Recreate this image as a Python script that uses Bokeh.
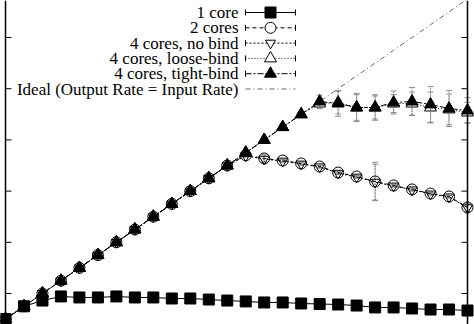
from bokeh.plotting import figure
from bokeh.models import Range1d, Label, Span
from bokeh.embed import file_html
from bokeh.resources import INLINE

# ---------------- data ----------------
input_rate = [20, 30, 40, 50, 60, 70, 80, 90, 100, 110, 120, 130, 140,
              150, 160, 170, 180, 190, 200, 210, 220, 230, 240, 250, 260, 270]
ideal = list(input_rate)

one_core = [20, 30, 34.5, 37.7, 36.9, 36.9, 37.7, 36.9, 36.9, 36.1, 36.1, 35.3, 34.5,
            33.8, 33.0, 33.0, 32.2, 31.8, 31.4, 30.6, 29.1, 29.1, 28.3, 27.5, 27.5, 26.7]
one_core_err = [0, 0, 1, 1, 1, 1, 1, 1, 1, 1, 1, 1, 1,
                1, 1, 1, 1, 1, 1, 1, 1, 1, 1, 1, 1, 1]

two_cores = [20, 30, 40, 50, 60, 70, 80, 90, 100, 110, 120, 130, 140,
             148, 145.5, 143.9, 141.6, 139.2, 134.5, 131.4, 127.5, 124.4, 121.3, 118.1, 115.8, 107.2]
two_cores_err = [0, 0, 0, 0, 0, 0, 0, 0, 0, 0, 0, 0, 0,
                 1, 3, 1, 1, 1, 1, 1, 15, 1, 1, 1, 1, 3]

no_bind = [20, 30, 40, 50, 60, 70, 80, 90, 100, 110, 120, 130, 140,
           147.5, 145.0, 143.5, 141.2, 139.0, 134.0, 131.0, 127.0, 124.0, 121.0, 117.8, 115.5, 107.0]
no_bind_err = [0, 0, 0, 0, 0, 0, 0, 0, 0, 0, 0, 0, 0,
               1, 2, 1, 1, 1, 1, 1, 14, 1, 1, 1, 1, 3]

loose_bind = [20, 30, 40, 50, 60, 70, 80, 90, 100, 110, 120, 130, 140,
              150, 160, 170, 180, 188.4, 189.2, 185.3, 185.3, 188.4, 188.4, 185.3, 183.8, 181.4]
loose_bind_err = [0, 0, 0, 0, 0, 0, 0, 0, 0, 0, 0, 0, 0,
                  0, 0, 0, 1, 4, 9, 10, 9, 7, 9, 12, 12, 8]

tight_bind = [20, 30, 40, 50, 60, 70, 80, 90, 100, 110, 120, 130, 140,
              150, 160, 170, 180, 190, 188.4, 185.3, 185.3, 189.2, 190.0, 187.7, 184.5, 183.0]
tight_bind_err = [0, 0, 0, 0, 0, 0, 0, 0, 0, 0, 0, 0, 0,
                  0, 0, 0, 1, 5, 10, 11, 10, 9, 11, 14, 14, 10]

y_ticks = [40, 80, 120, 160, 200, 240]
legend_labels = ["1 core", "2 cores", "4 cores, no bind", "4 cores, loose-bind",
                 "4 cores, tight-bind", "Ideal (Output Rate = Input Rate)"]

# ---------------- layout ----------------
W, H = 474, 324
PXX = 1.848   # px per x unit
PXY = 1.28    # px per y unit
x0 = 20 - 5 / PXX
x1 = x0 + W / PXX
y1 = 40 + 293 / PXY
y0 = y1 - H / PXY

def dx(px):
    return x0 + px / PXX

def dy(py):
    return y1 - py / PXY

p = figure(width=W, height=H, x_range=Range1d(x0, x1), y_range=Range1d(y0, y1),
           output_backend="svg", toolbar_location=None,
           x_axis_type=None, y_axis_type=None, min_border=0,
           outline_line_color=None, background_fill_color="white",
           border_fill_color="white")

# frame lines (left and right borders)
xmin, xmax = input_rate[0], input_rate[-1]
p.add_layout(Span(location=xmin, dimension="height", line_color="black", line_width=1.5))
p.add_layout(Span(location=xmax, dimension="height", line_color="black", line_width=1.5))
tl = 6 / PXX
p.segment(x0=[xmin] * len(y_ticks), y0=y_ticks, x1=[xmin + tl] * len(y_ticks), y1=y_ticks,
          line_color="black", line_width=1)
p.segment(x0=[xmax - tl] * len(y_ticks), y0=y_ticks, x1=[xmax] * len(y_ticks), y1=y_ticks,
          line_color="black", line_width=1)

series = [
    dict(y=one_core, err=one_core_err, dash="solid", marker="square", size=11, fill="black"),
    dict(y=two_cores, err=two_cores_err, dash="4 3", marker="circle", size=11, fill=None),
    dict(y=no_bind, err=no_bind_err, dash="2 2", marker="inverted_triangle", size=10, fill=None),
    dict(y=loose_bind, err=loose_bind_err, dash="1 2", marker="triangle", size=12, fill=None),
    dict(y=tight_bind, err=tight_bind_err, dash="6 2 2 2", marker="triangle", size=12, fill="black"),
]

# ideal line
p.line(input_rate, ideal, line_color="#555555", line_width=0.9, line_dash="5 3 1 3")

for s in series:
    ys = s["y"]
    lo = [a - e for a, e in zip(ys, s["err"])]
    hi = [a + e for a, e in zip(ys, s["err"])]
    p.segment(x0=input_rate, y0=lo, x1=input_rate, y1=hi, line_color="#777777",
              line_width=0.8, line_dash="2 1")
    p.scatter(input_rate, lo, marker="dash", size=6, line_color="#777777", line_width=0.8)
    p.scatter(input_rate, hi, marker="dash", size=6, line_color="#777777", line_width=0.8)
    p.line(input_rate, ys, line_color="black", line_width=1, line_dash=s["dash"])
    p.scatter(input_rate, ys, marker=s["marker"], size=s["size"], line_color="black",
              line_width=1, fill_color=s["fill"])

# ---------------- legend (gnuplot style) ----------------
row_y = [12 + 15.3 * k for k in range(6)]
lx0, lx1, lxm = 245, 295, 270
legend_styles = series + [dict(dash="5 3 1 3", marker=None)]
for k, (lab, s) in enumerate(zip(legend_labels, legend_styles)):
    yy = dy(row_y[k])
    p.add_layout(Label(x=238, y=H - row_y[k], x_units="screen", y_units="screen",
                       text=lab, text_align="right", text_baseline="middle",
                       text_font="Liberation Serif", text_font_size="17px",
                       text_color="black"))
    if s["marker"] is None:
        p.line([dx(lx0), dx(lx1)], [yy, yy], line_color="#555555", line_width=0.9,
               line_dash=s["dash"])
    else:
        p.line([dx(lx0), dx(lx1)], [yy, yy], line_color="black", line_width=1,
               line_dash=s["dash"])
        p.segment(x0=[dx(lx0), dx(lx1)], y0=[yy - 3 / PXY] * 2, x1=[dx(lx0), dx(lx1)],
                  y1=[yy + 3 / PXY] * 2, line_color="black", line_width=1)
        p.scatter([dx(lxm)], [yy], marker=s["marker"], size=s["size"], line_color="black",
                  line_width=1, fill_color=s["fill"] if s["fill"] else "white")

open("out.html", "w").write(file_html(p, INLINE))
